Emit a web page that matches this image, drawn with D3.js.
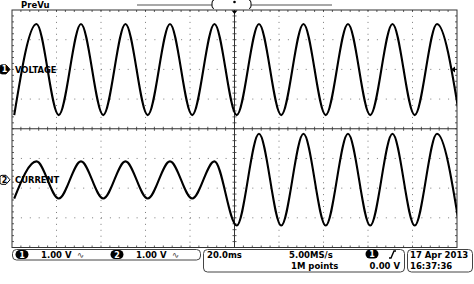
<!DOCTYPE html>
<html>
<head>
<meta charset="utf-8">
<script src="https://cdn.jsdelivr.net/npm/d3@7"></script>
<style>
  body { margin: 0; background: #fff; }
  svg text { font-family: "DejaVu Sans", sans-serif; font-weight: bold; }
</style>
</head>
<body>
<svg id="scope"></svg>
<script>
// scope settings
const timePerDiv = 20;          // ms / div
const voltsPerDiv = [1.00, 1.00];
const channelOffset = [2.0, -1.72];   // divisions from center
const channelNames = ["VOLTAGE", "CURRENT"];

// times (ms, relative to screen center) of the peaks and troughs
const extremaMs = [-99, -89, -79, -69, -59, -49, -39, -29, -19, -9, 1, 11, 21, 31, 41, 51, 61, 71, 81, 91, 101];
// channel 1, volts at each extremum
const voltage = [-1.54, 1.53, -1.54, 1.53, -1.54, 1.53, -1.54, 1.53, -1.54, 1.53, -1.54,
                 1.53, -1.54, 1.53, -1.54, 1.53, -1.54, 1.53, -1.54, 1.53, -1.54];
// channel 2, volts at each extremum (amplitude steps up after the trigger)
const current = [-0.63, 0.62, -0.63, 0.62, -0.63, 0.62, -0.63, 0.62, -0.63, 0.62, -1.54,
                 1.55, -1.54, 1.55, -1.54, 1.55, -1.54, 1.55, -1.54, 1.55, -1.54];

const statusCh = ["1.00 V", "1.00 V"];
const statusTime = ["20.0ms", "5.00MS/s", "1M points"];
const statusTrig = "0.00 V";
const statusDate = ["17 Apr 2013", "16:37:36"];

const W = 474, H = 284;
const gx0 = 12, gx1 = 457, gy0 = 10, gy1 = 247.5;
const nX = 10, nY = 8;
const dx = (gx1 - gx0) / nX, dy = (gy1 - gy0) / nY;

let svg = d3.select("#scope").attr("width", W).attr("height", H);

let x = d3.scaleLinear().domain([-nX / 2 * timePerDiv, nX / 2 * timePerDiv]).range([gx0, gx1]);
let yDiv = d3.scaleLinear().domain([nY / 2, -nY / 2]).range([gy0, gy1]);
const cx = x(0), cy = yDiv(0);

// dotted graticule
let grid = svg.append("g");
d3.range(1, nX).filter(i => i != nX / 2).forEach(i => {
    grid.append("line")
        .attr("x1", gx0 + i * dx).attr("x2", gx0 + i * dx)
        .attr("y1", gy0).attr("y2", gy1)
        .attr("stroke", "#7a7a7a").attr("stroke-width", 1)
        .attr("stroke-dasharray", "1,4.94");
});
d3.range(1, nY).filter(j => j != nY / 2).forEach(j => {
    grid.append("line")
        .attr("x1", gx0).attr("x2", gx1)
        .attr("y1", gy0 + j * dy).attr("y2", gy0 + j * dy)
        .attr("stroke", "#7a7a7a").attr("stroke-width", 1)
        .attr("stroke-dasharray", "1,7.9");
});

// center cross + minor ticks
grid.append("line").attr("x1", cx).attr("x2", cx).attr("y1", gy0).attr("y2", gy1)
    .attr("stroke", "#333").attr("stroke-width", 1);
grid.append("line").attr("x1", gx0).attr("x2", gx1).attr("y1", cy).attr("y2", cy)
    .attr("stroke", "#333").attr("stroke-width", 1);

d3.range(1, nX * 5).forEach(k => {
    let px = gx0 + k * dx / 5;
    grid.append("line").attr("x1", px).attr("x2", px).attr("y1", cy - 2).attr("y2", cy + 2)
        .attr("stroke", "#333").attr("stroke-width", 0.8);
    grid.append("line").attr("x1", px).attr("x2", px).attr("y1", gy0).attr("y2", gy0 + 2)
        .attr("stroke", "#333").attr("stroke-width", 0.8);
    grid.append("line").attr("x1", px).attr("x2", px).attr("y1", gy1 - 2).attr("y2", gy1)
        .attr("stroke", "#333").attr("stroke-width", 0.8);
});
d3.range(1, nY * 5).forEach(k => {
    let py = gy0 + k * dy / 5;
    grid.append("line").attr("x1", cx - 2).attr("x2", cx + 2).attr("y1", py).attr("y2", py)
        .attr("stroke", "#333").attr("stroke-width", 0.8);
    grid.append("line").attr("x1", gx0).attr("x2", gx0 + 2).attr("y1", py).attr("y2", py)
        .attr("stroke", "#333").attr("stroke-width", 0.8);
    grid.append("line").attr("x1", gx1 - 2).attr("x2", gx1).attr("y1", py).attr("y2", py)
        .attr("stroke", "#333").attr("stroke-width", 0.8);
});

grid.append("rect").attr("x", gx0).attr("y", gy0)
    .attr("width", gx1 - gx0).attr("height", gy1 - gy0)
    .attr("fill", "none").attr("stroke", "#333").attr("stroke-width", 1);

// traces
svg.append("clipPath").attr("id", "screen")
    .append("rect").attr("x", gx0).attr("y", gy0)
    .attr("width", gx1 - gx0).attr("height", gy1 - gy0);

function drawTrace(values, ch) {
    let pts = extremaMs.map((t, i) => ({t: t, v: values[i]}));
    let line = d3.line()
        .x(d => x(d.t))
        .y(d => yDiv(d.v / voltsPerDiv[ch] + channelOffset[ch]))
        .curve(d3.curveMonotoneX);
    svg.append("path")
        .attr("d", line(pts))
        .attr("clip-path", "url(#screen)")
        .attr("fill", "none")
        .attr("stroke", "#000")
        .attr("stroke-width", 2.1)
        .attr("stroke-linejoin", "round");
}
drawTrace(voltage, 0);
drawTrace(current, 1);

// channel ground markers
function chMarker(ch, filled) {
    let y = yDiv(channelOffset[ch]);
    svg.append("path")
        .attr("d", `M2,${y - 4.5} H6 L10,${y} L6,${y + 4.5} H2 A2,2 0 0 1 0,${y + 2.5} V${y - 2.5} A2,2 0 0 1 2,${y - 4.5} Z`)
        .attr("fill", filled ? "#000" : "#fff")
        .attr("stroke", "#000").attr("stroke-width", 1);
    svg.append("text").attr("x", 4.5).attr("y", y + 3)
        .attr("text-anchor", "middle").style("font-size", "8px")
        .attr("fill", filled ? "#fff" : "#000")
        .text(ch + 1);
    svg.append("text").attr("x", 15).attr("y", y + 3.2)
        .style("font-size", "8.4px").attr("fill", "#000")
        .text(channelNames[ch]);
}
chMarker(0, true);
chMarker(1, false);

// trigger level marker on the right
let trigY = yDiv(channelOffset[0]);
svg.append("path")
    .attr("d", `M451,${trigY} L455,${trigY - 3} L455,${trigY + 3} Z`)
    .attr("fill", "#000");
svg.append("line").attr("x1", 453).attr("x2", 457).attr("y1", trigY).attr("y2", trigY)
    .attr("stroke", "#000").attr("stroke-width", 1);

// top bar
svg.append("text").attr("x", 21).attr("y", 8).style("font-size", "8.5px").text("PreVu");
svg.append("line").attr("x1", 137).attr("x2", 212).attr("y1", 5).attr("y2", 5)
    .attr("stroke", "#a8a8a8").attr("stroke-width", 2);
svg.append("line").attr("x1", 251).attr("x2", 332).attr("y1", 5).attr("y2", 5)
    .attr("stroke", "#a8a8a8").attr("stroke-width", 2);
svg.append("path").attr("d", "M214,0 Q212,0 212,3 V6 Q212,8.5 214,8.5")
    .attr("fill", "none").attr("stroke", "#000").attr("stroke-width", 1);
svg.append("path").attr("d", "M249,0 Q251,0 251,3 V6 Q251,8.5 249,8.5")
    .attr("fill", "none").attr("stroke", "#000").attr("stroke-width", 1);
svg.append("circle").attr("cx", cx).attr("cy", 2).attr("r", 1.3).attr("fill", "#000");
svg.append("path").attr("d", `M${cx - 3},${gy0 + 0.5} L${cx + 3},${gy0 + 0.5} L${cx},${gy0 + 4} Z`)
    .attr("fill", "#000");

// status panels
function panel(x0, y0, w, h) {
    svg.append("rect").attr("x", x0).attr("y", y0).attr("width", w).attr("height", h)
        .attr("rx", 4).attr("fill", "#fff").attr("stroke", "#444").attr("stroke-width", 1);
}
function pill(xc, yc, label) {
    svg.append("rect").attr("x", xc - 6.5).attr("y", yc - 4.5).attr("width", 13).attr("height", 9)
        .attr("rx", 4.5).attr("fill", "#000");
    svg.append("text").attr("x", xc).attr("y", yc + 3).attr("text-anchor", "middle")
        .style("font-size", "8px").attr("fill", "#fff").text(label);
}
function label(x0, y0, s, anchor) {
    return svg.append("text").attr("x", x0).attr("y", y0).attr("text-anchor", anchor || "start")
        .style("font-size", "8.5px").attr("fill", "#000").text(s);
}

panel(12.5, 249.5, 188, 10.5);
panel(203.5, 249.5, 201, 22.5);
panel(407.5, 249.5, 65, 22.5);

pill(22, 254.5, "1");
label(41, 258, statusCh[0]);
label(77, 258, "\u223F").style("font-weight", "normal").attr("fill", "#444");
pill(117, 254.5, "2");
label(136, 258, statusCh[1]);
label(172, 258, "\u223F").style("font-weight", "normal").attr("fill", "#444");

label(207, 257.5, statusTime[0]);
label(289, 257.5, statusTime[1]);
label(291, 269, statusTime[2]);
pill(372, 254, "1");
svg.append("path").attr("d", "M389,258 H391 L394,251 H396")
    .attr("fill", "none").attr("stroke", "#000").attr("stroke-width", 1.4);
label(400, 269, statusTrig, "end");

label(410, 257.5, statusDate[0]);
label(410, 269, statusDate[1]);
</script>
</body>
</html>
